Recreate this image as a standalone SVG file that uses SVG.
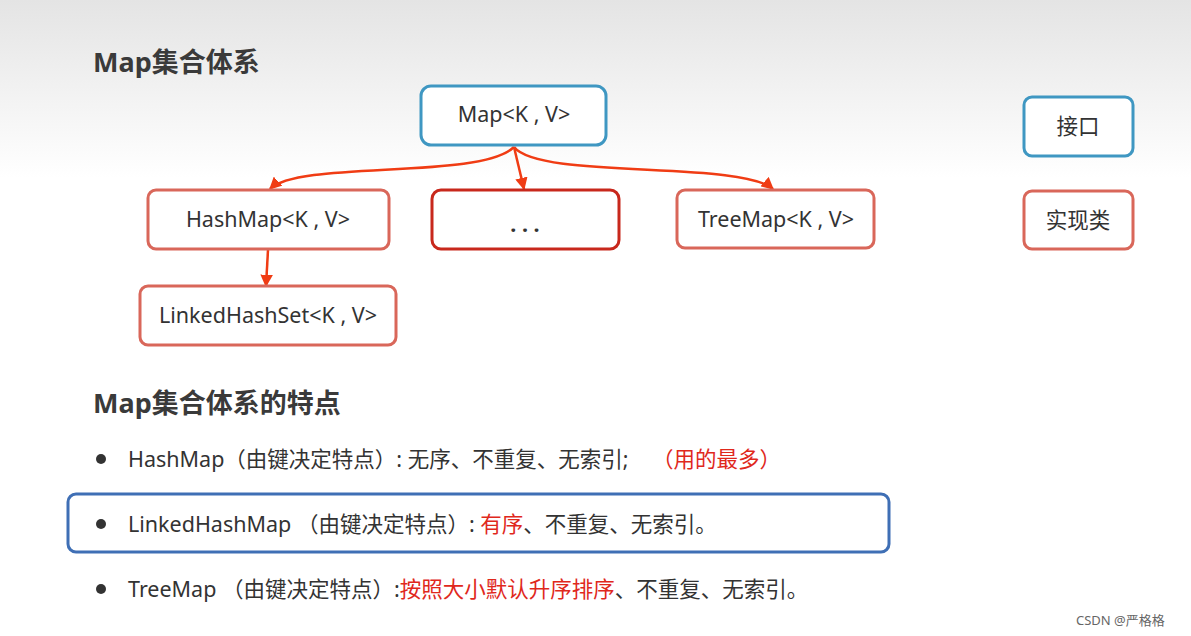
<svg xmlns="http://www.w3.org/2000/svg" width="1191" height="636" viewBox="0 0 1191 636">
<defs>
<linearGradient id="bg" x1="0" y1="0" x2="0" y2="1">
<stop offset="0" stop-color="#e4e4e4"/><stop offset="0.28" stop-color="#ffffff"/><stop offset="1" stop-color="#ffffff"/>
</linearGradient>
<marker id="ah" viewBox="0 0 10 10" refX="9" refY="5" markerWidth="5" markerHeight="5" orient="auto"><path d="M0,0 L10,5 L0,10 z" fill="#f03c14"/></marker>
<style>
text{font-family:"Noto Sans","Noto Sans CJK SC",sans-serif;fill:#333}
.h{font-size:27px;font-weight:bold;fill:#3a3a3a}
.n{font-size:21.5px;text-anchor:middle}
.t{font-size:21.5px}
.r{fill:#e0281c}
.blue{fill:#fff;stroke:#3f97c2;stroke-width:3}
.imp{fill:#fff;stroke:#d9675a;stroke-width:3}
.conn path{fill:none;stroke:#f03c14;stroke-width:2.5;marker-end:url(#ah)}
</style>
</defs>
<rect width="1191" height="636" fill="url(#bg)"/>
<text class="h" x="93" y="72">Map集合体系</text>
<g class="conn">
<path d="M514,147 C480,180 300,160 270,189"/>
<path d="M514,147 L524,189"/>
<path d="M514,147 C540,180 740,160 773,189"/>
<path d="M268,250 L266,286"/>
</g>
<g id="map"><rect class="blue" x="421" y="86" width="185" height="59" rx="10"/><text class="n" x="514" y="122">Map&lt;K , V&gt;</text></g>
<g id="hashmap"><rect class="imp" x="148" y="190" width="241" height="59" rx="8"/><text class="n" x="268" y="227">HashMap&lt;K , V&gt;</text></g>
<g id="etc"><rect x="432" y="190" width="187" height="59" rx="9" fill="#fff" stroke="#c8281c" stroke-width="3"/><text class="n" x="525" y="232" style="font-weight:bold">. . .</text></g>
<g id="treemap"><rect class="imp" x="677" y="190" width="197" height="58" rx="8"/><text class="n" x="776" y="227">TreeMap&lt;K , V&gt;</text></g>
<g id="lhs"><rect class="imp" x="140" y="286" width="256" height="59" rx="8"/><text class="n" x="268" y="323">LinkedHashSet&lt;K , V&gt;</text></g>
<g id="legend-if"><rect class="blue" x="1024" y="97" width="109" height="59" rx="8"/><text class="n" x="1078" y="134">接口</text></g>
<g id="legend-impl"><rect class="imp" x="1024" y="191" width="109" height="58" rx="8"/><text class="n" x="1078" y="228">实现类</text></g>
<text class="h" x="93" y="413">Map集合体系的特点</text>
<rect x="68" y="494" width="821" height="58" rx="8" fill="#fff" stroke="#3f6fb5" stroke-width="3"/>
<g fill="#333"><circle cx="101" cy="459" r="5"/><circle cx="101" cy="524" r="5"/><circle cx="101" cy="589" r="5"/></g>
<text class="t" x="128" y="467">HashMap（由键决定特点）: 无序、不重复、无索引;<tspan class="r" x="652">（用的最多）</tspan></text>
<text class="t" x="128" y="532">LinkedHashMap （由键决定特点）: <tspan class="r">有序</tspan>、不重复、无索引。</text>
<text class="t" x="128" y="597">TreeMap （由键决定特点）:<tspan class="r">按照大小默认升序排序</tspan>、不重复、无索引。</text>
<text x="1076" y="625" style="font-size:13px;fill:#666">CSDN @严格格</text>
</svg>
